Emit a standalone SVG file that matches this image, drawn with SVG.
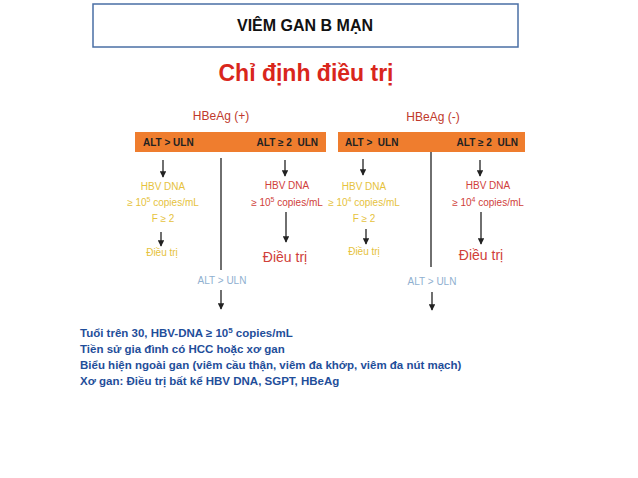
<svg xmlns="http://www.w3.org/2000/svg" width="638" height="478" viewBox="0 0 638 478">
<style>
text{font-family:"Liberation Sans",Arial,sans-serif}
.y{fill:#e6c23c;font-size:10px}
.r{fill:#d0403a;font-size:10px}
.b{fill:#8fb0d0;font-size:10px}
.bar{fill:#ef7d2e}
.bt{font-size:10px;font-weight:bold;fill:#222}
.ln{stroke:#222;stroke-width:1.3;fill:none}
.n{fill:#1f4e9a;font-size:11.5px;font-weight:bold}
</style>
<defs><marker id="a" viewBox="0 0 10 10" refX="9" refY="5" markerWidth="5" markerHeight="5" orient="auto"><path d="M0,0L10,5L0,10z" fill="#222"/></marker></defs>
<rect width="638" height="478" fill="#fff"/>
<g id="header"><rect x="93" y="4" width="425" height="43" fill="#fff" stroke="#4a6fa5" stroke-width="1.5"/><text x="305" y="31" text-anchor="middle" font-size="16" font-weight="bold" fill="#111">VIÊM GAN B MẠN</text></g>
<g id="title"><text x="306" y="81" text-anchor="middle" font-size="23" font-weight="bold" fill="#d9261c">Chỉ định điều trị</text></g>
<g id="pos"><text x="221" y="120" text-anchor="middle" font-size="12" fill="#c0392b">HBeAg (+)</text>
<rect class="bar" x="135" y="132" width="191" height="20"/><text class="bt" x="143" y="146">ALT &gt; ULN</text><text class="bt" x="318" y="146" text-anchor="end" xml:space="preserve">ALT ≥ 2  ULN</text></g>
<g id="neg"><text x="433" y="121" text-anchor="middle" font-size="12" fill="#c0392b">HBeAg (-)</text>
<rect class="bar" x="338" y="132" width="187" height="20"/><text class="bt" x="345" y="146" xml:space="preserve">ALT &gt;  ULN</text><text class="bt" x="518" y="146" text-anchor="end" xml:space="preserve">ALT ≥ 2  ULN</text></g>
<g id="n1"><text class="y" x="163" y="190" text-anchor="middle">HBV DNA</text><text class="y" x="163" y="206" text-anchor="middle">≥ 10<tspan dy="-4" font-size="7">5</tspan><tspan dy="4"> copies/mL</tspan></text><text class="y" x="163" y="222" text-anchor="middle">F ≥ 2</text><text class="y" x="162" y="256" text-anchor="middle">Điều trị</text></g>
<g id="n2"><text class="r" x="287" y="189" text-anchor="middle">HBV DNA</text><text class="r" x="287" y="206" text-anchor="middle">≥ 10<tspan dy="-4" font-size="7">5</tspan><tspan dy="4"> copies/mL</tspan></text><text x="285" y="262" text-anchor="middle" font-size="14" fill="#d0403a">Điều trị</text></g>
<g id="n3"><text class="y" x="364" y="190" text-anchor="middle">HBV DNA</text><text class="y" x="364" y="206" text-anchor="middle">≥ 10<tspan dy="-4" font-size="7">4</tspan><tspan dy="4"> copies/mL</tspan></text><text class="y" x="364" y="222" text-anchor="middle">F ≥ 2</text><text class="y" x="364" y="255" text-anchor="middle">Điều trị</text></g>
<g id="n4"><text class="r" x="488" y="189" text-anchor="middle">HBV DNA</text><text class="r" x="488" y="206" text-anchor="middle">≥ 10<tspan dy="-4" font-size="7">4</tspan><tspan dy="4"> copies/mL</tspan></text><text x="481" y="260" text-anchor="middle" font-size="14" fill="#d0403a">Điều trị</text></g>
<g id="alt1"><text class="b" x="222" y="284" text-anchor="middle">ALT &gt; ULN</text></g>
<g id="alt2"><text class="b" x="432" y="285" text-anchor="middle">ALT &gt; ULN</text></g>
<g id="notes"><text class="n" x="80" y="337">Tuổi trên 30, HBV-DNA ≥ 10<tspan dy="-4" font-size="8">5</tspan><tspan dy="4"> copies/mL</tspan></text><text class="n" x="80" y="353">Tiền sử gia đình có HCC hoặc xơ gan</text><text class="n" x="80" y="369">Biểu hiện ngoài gan (viêm cầu thận, viêm đa khớp, viêm đa nút mạch)</text><text class="n" x="80" y="385">Xơ gan: Điều trị bất kể HBV DNA, SGPT, HBeAg</text></g>
<g id="connectors" class="ln">
<line x1="163" y1="160" x2="163" y2="177" marker-end="url(#a)"/>
<line x1="161" y1="232" x2="161" y2="246" marker-end="url(#a)"/>
<line x1="285" y1="160" x2="285" y2="176" marker-end="url(#a)"/>
<line x1="286" y1="212" x2="286" y2="242" marker-end="url(#a)"/>
<line x1="221" y1="158" x2="221" y2="270"/>
<line x1="221" y1="290" x2="221" y2="309" marker-end="url(#a)"/>
<line x1="363" y1="159" x2="363" y2="175" marker-end="url(#a)"/>
<line x1="366" y1="229" x2="366" y2="244" marker-end="url(#a)"/>
<line x1="480" y1="160" x2="480" y2="176" marker-end="url(#a)"/>
<line x1="481" y1="212" x2="481" y2="244" marker-end="url(#a)"/>
<line x1="431" y1="152" x2="431" y2="267"/>
<line x1="432" y1="292" x2="432" y2="310" marker-end="url(#a)"/>
</g>
</svg>
